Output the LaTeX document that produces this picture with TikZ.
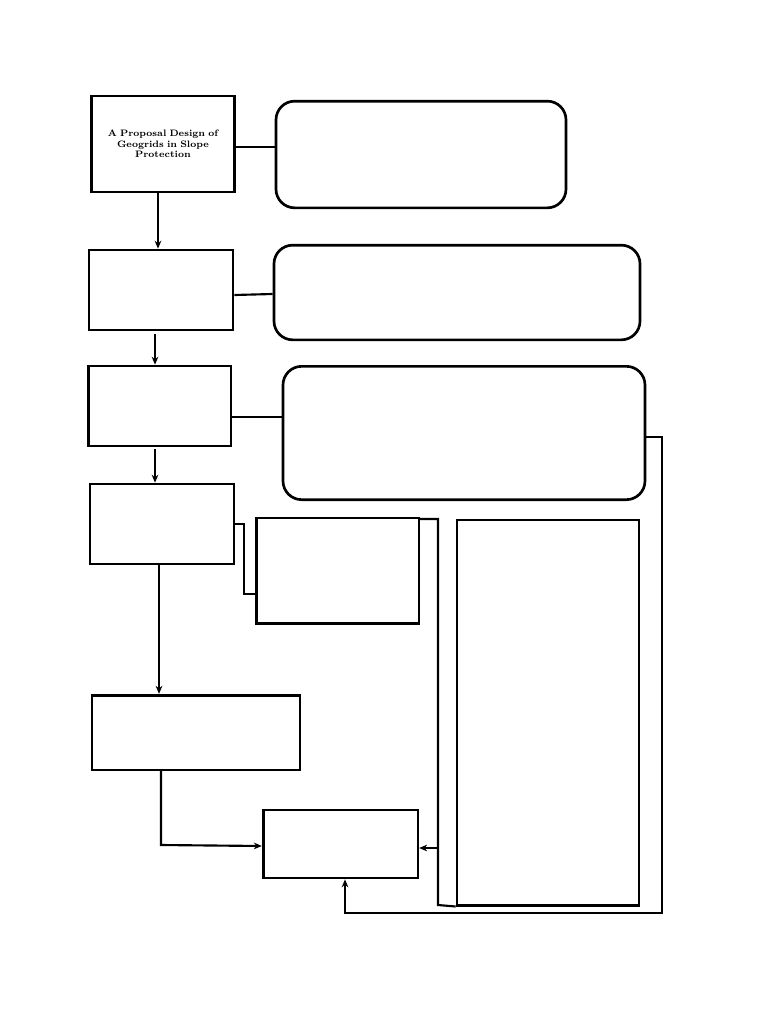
\documentclass[tikz,border=0pt]{standalone}
\usetikzlibrary{arrows.meta}
\begin{document}
\begin{tikzpicture}[x=0.75pt,y=-0.75pt,line width=2pt,
  box/.style={draw,rectangle,inner sep=0pt},
  rbox/.style={draw,rectangle,rounded corners=14pt,inner sep=0pt},
  arr/.style={-{Stealth[length=6pt,width=5pt]},line width=1.6pt},
  ln/.style={line width=1.6pt}]
\useasboundingbox (0,0) rectangle (768,1024);
\node[box,minimum width=107pt,minimum height=72pt,align=center,font=\bfseries\scriptsize,text width=100pt] (A) at (163,144) {A Proposal Design of\\Geogrids in Slope\\Protection};
\node[rbox,minimum width=217.5pt,minimum height=80pt] (R1) at (421,154.5) {};
\node[box,minimum width=108pt,minimum height=60pt] (B) at (161,290) {};
\node[rbox,minimum width=274.5pt,minimum height=71pt] (R2) at (457,292.5) {};
\node[box,minimum width=107pt,minimum height=60pt] (C) at (159.5,406) {};
\node[rbox,minimum width=271.5pt,minimum height=100pt] (R3) at (464,433) {};
\node[box,minimum width=108pt,minimum height=60pt] (D) at (162,524) {};
\node[box,minimum width=122pt,minimum height=79pt] (E) at (337.5,570.5) {};
\node[box,minimum width=136.5pt,minimum height=289pt] (T) at (548,712.5) {};
\node[box,minimum width=156pt,minimum height=56pt] (F) at (196,732.5) {};
\node[box,minimum width=116pt,minimum height=51pt] (G) at (340.5,844) {};
\draw[ln] (A.east |- 0,147) -- (R1.west |- 0,147);
\draw[ln] (B.east |- 0,295) -- (R2.west |- 0,294);
\draw[ln] (C.east |- 0,417) -- (R3.west |- 0,417);
\draw[arr] (158,192) -- (B.north -| 158,0);
\draw[arr] (155,334) -- (C.north -| 155,0);
\draw[arr] (155,449) -- (D.north -| 155,0);
\draw[arr] (D.south -| 159,0) -- (F.north -| 159,0);
\draw[arr] (F.south -| 161,0) -- (161,845) -- (G.west |- 0,846);
\draw[ln] (D.east |- 0,524) -- (244,524) -- (244,594) -- (E.west |- 0,594);
\draw[ln] (E.east |- 0,519) -- (438,519) -- (438,905) -- (T.south west);
\draw[arr] (438,848) -- (G.east |- 0,848);
\draw[arr] (R3.east |- 0,437) -- (662,437) -- (662,913) -- (345,913) -- (G.south -| 345,0);
\end{tikzpicture}
\end{document}
